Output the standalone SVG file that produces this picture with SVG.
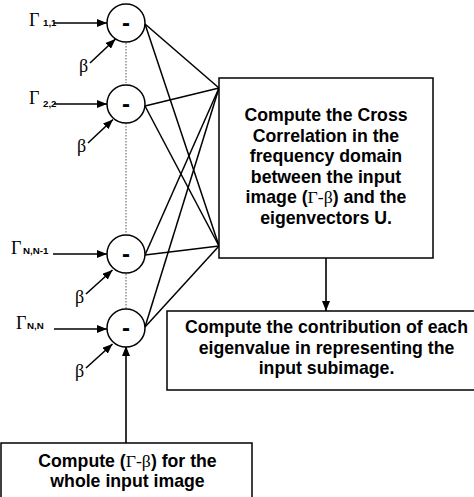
<svg xmlns="http://www.w3.org/2000/svg" width="474" height="497" viewBox="0 0 474 497">
<defs>
<marker id="ah" viewBox="0 0 10 8" refX="10" refY="4" markerWidth="10" markerHeight="8" markerUnits="userSpaceOnUse" orient="auto">
<path d="M0,0 L10,4 L0,8 Z" fill="#000"/>
</marker>
</defs>
<style>
.ln{stroke:#000;stroke-width:1.5;fill:none}
.ar{stroke:#000;stroke-width:1.6;fill:none;marker-end:url(#ah)}
.dot{stroke:#555;stroke-width:1;stroke-dasharray:1.5,1.5;fill:none}
.circ{stroke:#000;stroke-width:1.5;fill:#fff}
.box{stroke:#000;stroke-width:1.5;fill:#fff}
.bt{font-family:"Liberation Sans",Arial,sans-serif;font-weight:bold;font-size:17.7px;text-anchor:middle;fill:#000}
.sy{font-family:"Liberation Serif","Times New Roman",serif;font-weight:normal}
.g{font-family:"Liberation Serif","Times New Roman",serif;font-size:18px;fill:#000}
.sub{font-family:"Liberation Sans",Arial,sans-serif;font-weight:bold;font-size:9.7px;fill:#000}
.minus{font-family:"Liberation Sans",Arial,sans-serif;font-weight:bold;font-size:24px;text-anchor:middle;fill:#000}
</style>
<rect width="474" height="497" fill="#fff"/>
<g id="connectors">
<line class="dot" x1="126" y1="43" x2="126" y2="83"/>
<line class="dot" x1="126" y1="123" x2="126" y2="234"/>
<line class="dot" x1="126" y1="274" x2="126" y2="308"/>
<line class="ar" x1="54" y1="23" x2="107" y2="23"/>
<line class="ar" x1="54" y1="104" x2="107" y2="104"/>
<line class="ar" x1="53" y1="254" x2="107" y2="254"/>
<line class="ar" x1="54" y1="329" x2="107" y2="329"/>
<line class="ar" x1="90" y1="63" x2="115.5" y2="39"/>
<line class="ar" x1="88" y1="143" x2="113" y2="119.5"/>
<line class="ar" x1="86" y1="294" x2="112.5" y2="270"/>
<line class="ar" x1="86" y1="368" x2="112.5" y2="344"/>
<line class="ln" x1="145" y1="24" x2="219" y2="88"/>
<line class="ln" x1="145" y1="24" x2="219" y2="246"/>
<line class="ln" x1="145" y1="106" x2="219" y2="88"/>
<line class="ln" x1="145" y1="106" x2="219" y2="246"/>
<line class="ln" x1="145" y1="255" x2="219" y2="88"/>
<line class="ln" x1="145" y1="255" x2="219" y2="246"/>
<line class="ln" x1="145" y1="327" x2="219" y2="88"/>
<line class="ln" x1="145" y1="327" x2="219" y2="246"/>
<line class="ar" x1="326" y1="258" x2="326" y2="311"/>
<line class="ar" x1="126" y1="443" x2="126" y2="346"/>
</g>
<g id="in1">
<text class="g" x="29" y="26">Γ</text><text class="sub" x="43" y="26">1,1</text>
</g>
<g id="in2">
<text class="g" x="29" y="104">Γ</text><text class="sub" x="43" y="107" font-weight="normal">2,2</text>
</g>
<g id="in3">
<text class="g" x="11" y="254">Γ</text><text class="sub" x="23" y="254">N,N-1</text>
</g>
<g id="in4">
<text class="g" x="16" y="329">Γ</text><text class="sub" x="27" y="329">N,N</text>
</g>
<g id="b1"><text class="g" x="79" y="72">β</text></g>
<g id="b2"><text class="g" x="77" y="152">β</text></g>
<g id="b3"><text class="g" x="75" y="303">β</text></g>
<g id="b4"><text class="g" x="75" y="377">β</text></g>
<g id="s1"><circle class="circ" cx="126" cy="23" r="19"/><text class="minus" x="126" y="31">-</text></g>
<g id="s2"><circle class="circ" cx="126" cy="104" r="19"/><text class="minus" x="126" y="112">-</text></g>
<g id="s3"><circle class="circ" cx="126" cy="254" r="19"/><text class="minus" x="126" y="262">-</text></g>
<g id="s4"><circle class="circ" cx="126" cy="328" r="19"/><text class="minus" x="126" y="336">-</text></g>
<g id="crosscorr">
<rect class="box" x="219" y="78" width="214" height="180"/>
<text class="bt" x="326" y="121">Compute the Cross</text>
<text class="bt" x="326" y="141.6">Correlation in the</text>
<text class="bt" x="326" y="162.2">frequency domain</text>
<text class="bt" x="326" y="182.8">between the input</text>
<text class="bt" x="326" y="203.4">image (<tspan class="sy">Γ-β</tspan>) and the</text>
<text class="bt" x="326" y="224">eigenvectors U.</text>
</g>
<g id="contribution">
<rect class="box" x="167" y="311" width="310" height="79"/>
<text class="bt" x="326.5" y="333.3">Compute the contribution of each</text>
<text class="bt" x="326.5" y="353.5">eigenvalue in representing the</text>
<text class="bt" x="326.5" y="373.5">input subimage.</text>
</g>
<g id="diff">
<rect class="box" x="1" y="443" width="251" height="60"/>
<text class="bt" x="127.5" y="467.3">Compute (<tspan class="sy">Γ-β</tspan>) for the</text>
<text class="bt" x="127.5" y="487.3">whole input image</text>
</g>
</svg>
